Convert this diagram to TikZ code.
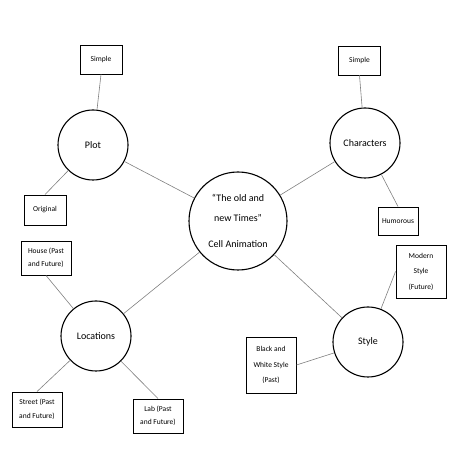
\documentclass[tikz,border=0pt]{standalone}
\usepackage{fontspec}
\setmainfont{Carlito}
\usetikzlibrary{calc}
\tikzset{topic/.style={draw, circle, line width=1.1pt, minimum size=70pt, inner sep=0pt, font=\fontsize{10}{12}\selectfont},
         hub/.style = {topic, minimum size=98pt, align=center, font=\fontsize{10}{20}\selectfont},
         leaf/.style = {draw, line width=0.9pt, inner sep=1pt, align=center, font=\fontsize{7.5}{13.5}\selectfont},
         line/.style = {draw=gray, line width=0.6pt}}
\def\leafw{50pt}

\begin{document}
\begin{tikzpicture}[x=1pt,y=1pt]
\useasboundingbox (0,0) rectangle (453,453);
\node (hub) [hub] at (238,232) {“The old and\\new Times”\\[6pt]Cell Animation};

\node (plot) [topic] at (93,308) {Plot};
\node (chars) [topic] at (365,310) {Characters};
\node (places) [topic] at (96,117) {Locations};
\node (style) [topic] at (368,111) {Style};

\path (plot)+(8,85.5) node (plotsimple) [leaf, minimum width=42pt, minimum height=29pt] {Simple};
\path (plot)+(-48,-65) node (original) [leaf, minimum width=42pt, minimum height=30pt] {Original};
\path (chars)+(-5.5,82.5) node (charsimple) [leaf, minimum width=42pt, minimum height=29pt] {Simple};
\path (chars)+(33,-78) node (humorous) [leaf, minimum width=40pt, minimum height=28pt] {Humorous};
\path (style)+(53,70.5) node (modern) [leaf, minimum width=\leafw, minimum height=53pt, font=\fontsize{7.5}{15.5}\selectfont] {Modern\\Style\\(Future)};
\path (style)+(-97,-23) node (blackwhite) [leaf, minimum width=\leafw, minimum height=56pt, font=\fontsize{7.5}{15.5}\selectfont] {Black and\\White Style\\(Past)};
\path (places)+(-50,78) node (house) [leaf, minimum width=\leafw, minimum height=34pt] {House (Past\\and Future)};
\path (places)+(-59,-73.5) node (street) [leaf, minimum width=\leafw, minimum height=35pt] {Street (Past\\and Future)};
\path (places)+(62,-80) node (lab) [leaf, minimum width=\leafw, minimum height=34pt] {Lab (Past\\and Future)};

% Draw connections between nodes
\draw [line] (hub) -- (plot);
\draw [line] (hub) -- (chars);
\draw [line] (hub) -- (places);
\draw [line] (hub) -- (style);
\draw [line] (plot) -- (plotsimple.south);
\draw [line] (plot) -- (original.north);
\draw [line] (chars) -- (charsimple.south);
\draw [line] (chars) -- (humorous.north);
\draw [line] (style) -- (modern.west);
\draw [line] (style) -- (blackwhite.east);
\draw [line] (places) -- (house.south);
\draw [line] (places) -- (street.north);
\draw [line] (places) -- (lab.north);
\end{tikzpicture}
\end{document}
